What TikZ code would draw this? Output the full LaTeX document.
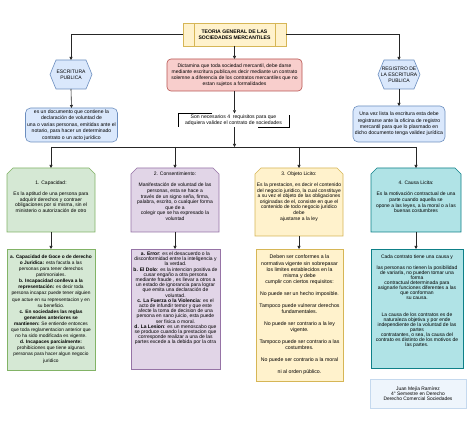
\documentclass[tikz,border=0pt]{standalone}
\usepackage{fontspec}
\setmainfont{Liberation Sans}
\usetikzlibrary{arrows.meta,backgrounds}
\newcommand\fz[2]{\fontsize{#1}{#2}\selectfont}
\definecolor{yelF}{HTML}{FFF2CC}\definecolor{yelD}{HTML}{D6B656}
\definecolor{redF}{HTML}{F8CECC}\definecolor{redD}{HTML}{B85450}
\definecolor{bluF}{HTML}{DAE8FC}\definecolor{bluD}{HTML}{6C8EBF}
\definecolor{grnF}{HTML}{D5E8D4}\definecolor{grnD}{HTML}{82B366}
\definecolor{purF}{HTML}{E1D5E7}\definecolor{purD}{HTML}{9673A6}
\definecolor{tealF}{HTML}{B0E3E6}\definecolor{tealD}{HTML}{0E8088}
\definecolor{sigF}{HTML}{EEF5FC}\definecolor{sigD}{HTML}{C5D9EE}
\newcommand\hexa[3]{\draw[fill=#2,draw=#3,line width=0.6pt] (#1.west) -- ([xshift=6pt]#1.north west) -- ([xshift=-6pt]#1.north east) -- (#1.east) -- ([xshift=-6pt]#1.south east) -- ([xshift=6pt]#1.south west) -- cycle;}
\newcommand\chamf[3]{\draw[fill=#2,draw=#3,line width=0.6pt] (#1.south west) -- ([yshift=-6pt]#1.north west) -- ([xshift=6pt]#1.north west) -- ([xshift=-6pt]#1.north east) -- ([yshift=-6pt]#1.north east) -- (#1.south east) -- cycle;}
\begin{document}
\begin{tikzpicture}[x=1pt,y=-1pt,
  every node/.style={inner sep=0pt,outer sep=0pt},
  txt/.style={align=center,text=black},
  con/.style={draw=black!85,line width=0.6pt},
  arr/.style={con,-{Triangle[length=3pt,width=3pt]}},
  shp/.style={line width=0.6pt}]
\useasboundingbox (0,0) rectangle (474,438);
% top
\node[shp,draw=yelD,fill=yelF,minimum width=103pt,minimum height=23pt,txt,font=\fz{5.1}{6.5}\bfseries] (title) at (234.5,34.5) {TEORIA GENERAL DE LAS\\SOCIEDADES MERCANTILES};
\draw[yelD,shp] ([xshift=11pt]title.north west) -- ([xshift=11pt]title.south west);
\draw[yelD,shp] ([xshift=-11pt]title.north east) -- ([xshift=-11pt]title.south east);
\node[shp,draw=redD,fill=redF,rounded corners=4pt,minimum width=135pt,minimum height=32pt,txt,font=\fz{5}{5.9}] (pink) at (234.5,75) {Dictamina que toda sociedad mercantil, debe darse\\mediante escritura publica,es decir mediante un contrato\\solemne a diferencia de los contratos mercantiles que no\\estan sujetos a formalidades};
\node[minimum width=42pt,minimum height=29pt,txt,font=\fz{5}{6.3}] (esc) at (71,74.5) {ESCRITURA\\PUBLICA};
\node[minimum width=42pt,minimum height=29pt,txt,font=\fz{5}{5.8}] (reg) at (399,74.5) {REGISTRO DE\\LA ESCRITURA\\PUBLICA};
\node[shp,draw=bluD,fill=bluF,rounded corners=5pt,minimum width=92pt,minimum height=34pt,txt,font=\fz{5.1}{6.4}] (escb) at (71.5,125) {es un documento que contiene la\\declaración de voluntad de\\una o varias personas, emitidas ante el\\notario, para hacer un determinado\\contrato o un acto jurídico};
\node[shp,draw=bluD,fill=bluF,rounded corners=5pt,minimum width=92pt,minimum height=36pt,txt,font=\fz{5.1}{6.4}] (regb) at (399,124) {Una vez lista la escritura esta debe\\registrarse ante la oficina de registro\\mercantil para que lo plasmado en\\dicho documento tenga validez jurídica};
\node[minimum width=111pt,minimum height=14pt,txt,font=\fz{5.1}{5.4}] (annot) at (233.5,120.3) {Son necesarios 4~ requisitos para que\\adquiera validez el contrato de sociedades};
\draw[shp,black] ([xshift=34pt]annot.north west) -- (annot.north west) -- (annot.south west);
\draw[shp,black] ([xshift=-31pt]annot.south east) -- (annot.south east) -- ([yshift=12pt]annot.south east);
\coordinate (bus) at (234.5,147);
% headers
\node[minimum width=88pt,minimum height=64pt] (h1) at (51,200) {};
\node[minimum width=88pt,minimum height=64pt] (h2) at (175,200) {};
\node[minimum width=88pt,minimum height=68pt] (h3) at (299,202) {};
\node[minimum width=90pt,minimum height=64pt] (h4) at (416,200) {};
\node[txt,font=\fz{5}{5.5}] (h1t) at (51,196.7) {1. Capacidad:\\[5.5pt]Es la aptitud de una persona para\\adquirir derechos y contraer\\obligaciones por si misma, sin el\\ministerio o autorización de otro};
\node[txt,font=\fz{5}{5.6}] (h2t) at (175,196.5) {2. Consentimiento:\\[5.4pt]Manifestación de voluntad de las\\personas, esta se hace a\\través de un signo seña, firma,\\palabra, escrito, o cualquier forma\\que de a\\colegir que se ha expresado la\\voluntad};
\node[txt,font=\fz{5}{5.6}] (h3t) at (299,196.5) {3. Objeto Licito:\\[5.4pt]Es la prestacion, es decir el contenido\\del negocio juridico, la cual constituye\\a su vez el objeto de las obligaciones\\originadas de el, consiste en que el\\contenido de todo negocio juridico\\debe\\ajustarse a la ley};
\node[txt,font=\fz{5}{5.7}] (h4t) at (416,197) {4. Causa Licita:\\[5.3pt]Es la motivación contractual de una\\parte cuando aquella se\\opone a las leyes, a la moral o a las\\buenas costumbres};
% contents
\node[minimum width=88pt,minimum height=121pt] (c1) at (51,309.5) {};
\node[minimum width=89pt,minimum height=120pt] (c2) at (175.5,309) {};
\node[minimum width=87pt,minimum height=132pt] (c3) at (299.5,315) {};
\node[minimum width=92pt,minimum height=119pt] (c4) at (417,308.5) {};
\node[txt,font=\fz{4.8}{6.1}] (c1t) at (51,309) {\textbf{a. Capacidad de Goce o de derecho}\\\textbf{o Juridica:} esta facutla a las\\personas para tener derechos\\patrimoniales.\\\textbf{b. Incapacidad conlleva a la}\\\textbf{representación:} es decir toda\\persona incapaz puede tener alguien\\que actue en su representacion y en\\su beneficio.\\\textbf{c. En sociedades las reglas}\\\textbf{generales anteriores se}\\\textbf{mantienen:} Se entiende entonces\\que toda reglamentacion anterior que\\no ha sido modificada es vigente.\\\textbf{d. Incapaces parcialmente:}\\prohibiciones que tiene algunas\\personas para hacer algun negocio\\juridico};
\node[txt,font=\fz{5}{5.2}] (c2t) at (175.5,298.5) {\textbf{a. Error}: es el desacuerdo o la\\disconformidad entre la inteligencia y\\la verdad.\\\textbf{b. El Dolo}: es la intencion positiva de\\cusar engaño a otra persona\\mediante fraude , es llevar a otros a\\un estado de ignorancia para lograr\\que emita una declaración de\\voluntad.\\\textbf{c. La Fuerza o la Violencia}: es el\\acto de infundir temor y que este\\afecte la toma de decision de una\\persona en sano juicio, esta puede\\ser fisica o moral.\\\textbf{d. La Lesion}: es un menoscabo que\\se produce cuando la prestacion que\\corresponde realizar a una de las\\partes excede a la debida por la otra};
\node[txt,font=\fz{5.2}{6.2}] (c3t) at (299.5,314.7) {Deben ser conformes a la\\normativa vigente sin sobrepasar\\los limites establecidos en la\\misma y debe\\cumplir con ciertos requisitos:\\[5.6pt]No puede ser un hecho imposible.\\[5.6pt]Tampoco puede vulnerar derechos\\fundamentales.\\[5.6pt]No puede ser contrario a la ley\\vigente.\\[5.6pt]Tampoco puede ser contrario a las\\costumbres.\\[5.6pt]No puede ser contrario a la moral\\[5.6pt]ni al orden público.};
\node[txt,font=\fz{5}{5}] (c4t) at (417,301.3) {Cada contrato tiene una causa y\\[5.7pt]las personas no tienen la posibilidad\\de variarla, no pueden tomar una\\forma\\contractual determinada para\\asignarle funciones diferentes a las\\que conforman\\su causa.\\[12pt]La causa de los contratos es de\\naturaleza objetiva y por ende\\independiente de la voluntad de las\\partes\\contratantes, o sea, la causa del\\contrato es distinto de los motivos de\\las partes.};
\node[shp,draw=sigD,fill=sigF,minimum width=96pt,minimum height=29pt,txt,font=\fz{4.9}{5.2}] (sig) at (418,394) {Juan Mejía Ramírez\\4° Semestre en Derecho\\Derecho Comercial Sociedades};
% background shapes
\begin{scope}[on background layer]
\fill[white] (0,0) rectangle (474,438);
\hexa{esc}{bluF}{bluD}
\hexa{reg}{bluF}{bluD}
\chamf{h1}{grnF}{grnD}
\chamf{h2}{purF}{purD}
\chamf{h3}{yelF}{yelD}
\chamf{h4}{tealF}{tealD}
\draw[shp,fill=grnF,draw=grnD] (c1.south west) rectangle (c1.north east);
\draw[shp,fill=purF,draw=purD] (c2.south west) rectangle (c2.north east);
\draw[shp,fill=yelF,draw=yelD] (c3.south west) rectangle (c3.north east);
\draw[shp,fill=tealF,draw=tealD] (c4.south west) rectangle (c4.north east);
\end{scope}
% connectors
\draw[arr] (title.west) -| (esc.north);
\draw[arr] (title.east) -| (reg.north);
\draw[arr] (title.south) -- (pink.north);
\draw[arr] (esc.south) -- (escb.north);
\draw[arr] (reg.south) -- (regb.north);
\draw[arr] (pink.south) -- (annot.north -| pink.south);
\draw[arr] (annot.south -| pink.south) -- (bus);
\draw[con] (h1.north |- bus) -- (h4.north |- bus);
\draw[arr] (h1.north |- bus) -- (h1.north);
\draw[arr] (h2.north |- bus) -- (h2.north);
\draw[arr] (h3.north |- bus) -- (h3.north);
\draw[arr] (h4.north |- bus) -- (h4.north);
\draw[arr] (h1.south) -- (h1.south |- c1.north);
\draw[arr] (h2.south) -- (h2.south |- c2.north);
\draw[arr] (h3.south) -- (h3.south |- c3.north);
\draw[arr] (h4.south) -- (h4.south |- c4.north);
\end{tikzpicture}
\end{document}
